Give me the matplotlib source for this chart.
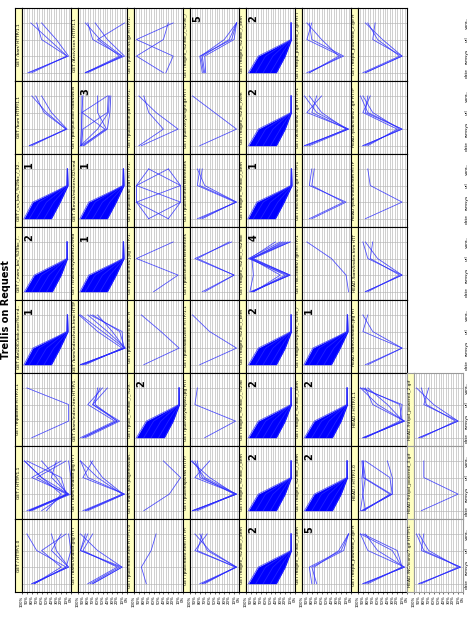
import matplotlib
matplotlib.use("Agg")
import matplotlib.pyplot as plt
import numpy as np

# variable order along each panel (bottom to top)
variables = ["date", "rsmsys", "url", "vora.."]
tick_labels = ["100%", "90%", "80%", "70%", "60%", "50%", "40%", "30%", "20%", "10%", "0%"]

band1 = [[96, 78, 7, 7], [40, 22, 7, 7], [70, 50, 8, 7], [55, 35, 6, 7], [85, 65, 9, 8]]
band2 = [[95, 75, 8, 8], [38, 20, 8, 8], [65, 45, 9, 8], [80, 60, 7, 8], [50, 30, 8, 8]]

# (col, row): (strip label, big number, lines as [date, rsmsys, url, vora], dense)
panels = {
    (0, 0): ("GET /barr/ HTTP/1.1", "", [[85, 8, 45, 82], [80, 8, 60, 70], [88, 5, 30, 60]], False),
    (0, 1): ("GET /bum HTTP/1.1", "", [[85, 10, 50, 80], [80, 10, 55, 72], [85, 8, 40, 60]], False),
    (0, 2): ("GET /_vs_bw/_%29bc_/_32..", "1", band1, True),
    (0, 3): ("GET /_nwm_bn/_%29bc_/..", "2", band2, True),
    (0, 4): ("GET /AnUDIC/bob.exe/%c+d..", "1", band1, True),
    (0, 5): ("GET /mpbored HTTP/1.1", "", [[80, 5, 5, 90]], False),
    (0, 6): ("GET / HTTP/1.1", "", [[85, 5, 60, 95], [80, 5, 40, 30], [85, 8, 30, 60], [60, 10, 20, 90],
                                   [85, 10, 70, 10], [90, 5, 80, 20], [85, 0, 0, 5], [50, 20, 60, 95]], False),
    (0, 7): ("GET / HTTP/1.0", "", [[75, 10, 70, 90], [80, 5, 40, 20], [75, 20, 60, 10], [75, 10, 0, 5],
                                   [80, 5, 30, 40]], False),
    (1, 0): ("GET /Arxiv/icon HTTP/1.1", "", [[85, 10, 55, 85], [85, 5, 40, 65], [80, 10, 70, 80], [85, 15, 60, 5]], False),
    (1, 1): ("GET /pdf/pub.bib/%BBNWEN", "3", [[95, 93, 92, 92], [88, 40, 35, 33], [93, 90, 40, 38], [90, 45, 92, 90],
                                             [95, 60, 38, 36], [92, 92, 92, 40], [94, 42, 60, 60]], False),
    (1, 2): ("GET /Bmest/minters/32/cmd", "1", band1, True),
    (1, 3): ("GET /c/winnt/system32/cmd", "1", band1, True),
    (1, 4): ("GET /bam/indexcheck.html HTTP", "", [[95, 5, 15, 70], [90, 8, 10, 75], [95, 5, 50, 95], [90, 5, 30, 60],
                                                  [85, 10, 60, 98], [95, 3, 40, 80]], False),
    (1, 5): ("GET /bam/index.htm HTTP/1.", "", [[90, 20, 65, 60], [85, 15, 70, 55], [95, 25, 80, 50], [90, 20, 70, 40]], False),
    (1, 6): ("GET /bam/Ulhabot.jpg HTT", "", [[85, 5, 80, 95], [80, 5, 90, 70], [85, 10, 60, 95], [90, 8, 50, 75]], False),
    (1, 7): ("GET /bam/Ulhabot.jpg HTT", "", [[70, 10, 95, 85], [75, 15, 95, 80], [70, 10, 60, 95], [80, 20, 90, 70]], False),
    (2, 0): ("GET /pub/ak-ss.gz HTTP/1.", "", [[40, 95, 40, 30], [35, 20, 95, 20]], False),
    (2, 1): ("GET /pub/db/ie.pdf HTTP/1.", "", [[90, 40, 70, 80], [85, 10, 55, 90]], False),
    (2, 2): ("GET /pub/db/ac.pdf HTTP/1.", "", [[70, 95, 95, 70], [30, 5, 5, 30], [70, 5, 95, 30], [30, 95, 5, 70]], False),
    (2, 3): ("GET /pub/dlinks/j.pg HTTP/1.", "", [[60, 10, 95, 20]], False),
    (2, 4): ("GET /pub/bibtex/bib/.. H", "", [[80, 8, 45, 85]], False),
    (2, 5): ("GET /pub/_%29bc_/_%29..", "2", band2, True),
    (2, 6): ("GET /man.ats?pagemission..", "", [[80, 28, 5, 40]], False),
    (2, 7): ("GET /pub/index.htm HTTP/1.0", "", [[75, 85, 65, 55]], False),
    (3, 0): ("GET /nogel/_%29bc_/_%29c_/", "5", [[70, 75, 20, 5], [75, 80, 15, 5], [68, 70, 10, 5], [72, 78, 30, 5]], False),
    (3, 1): ("GET /pub/ve/ysinghr.gz HTT", "", [[80, 5, 50, 95]], False),
    (3, 2): ("GET /pub/selinte/references", "", [[85, 5, 80, 75], [80, 5, 70, 85], [75, 8, 85, 80]], False),
    (3, 3): ("GET /pub/selinte/references", "", [[75, 10, 90, 15], [70, 10, 85, 20]], False),
    (3, 4): ("GET /pub/adbt2b/e HTTP/1.1", "", [[80, 5, 60, 95]], False),
    (3, 5): ("GET /pub/ve/ysmpsu.jpg HTT", "", [[70, 7, 90, 85]], False),
    (3, 6): ("GET /pub/maps/ras HTTP/", "", [[95, 5, 70, 95], [90, 10, 75, 90], [95, 5, 80, 85], [85, 8, 60, 98],
                                            [95, 5, 90, 60]], False),
    (3, 7): ("GET /pub/index.html HTTP/", "", [[75, 5, 90, 65], [80, 5, 60, 90], [70, 8, 85, 75], [75, 5, 65, 80]], False),
    (4, 0): ("GET /nogel/_%29bc_/_kern", "2", band2, True),
    (4, 1): ("GET /nogel/_%29c_/vcm", "2", band2, True),
    (4, 2): ("GET /nogel/_%29bc_/_kern", "1", band1, True),
    (4, 3): ("GET /nogel/_%29c_/_%29bc", "4", [[88, 10, 90, 20], [85, 15, 95, 30], [90, 10, 85, 10], [86, 20, 92, 40],
                                              [90, 12, 88, 25], [92, 85, 88, 15], [84, 30, 90, 10]], False),
    (4, 4): ("GET /nogel/_%29c_/_kern", "2", band2, True),
    (4, 5): ("GET /nogel/_%29bc_/_%29b", "2", band2, True),
    (4, 6): ("GET /nogel/_%29bc_/_kern", "2", band2, True),
    (4, 7): ("GET /nogel/_%29bc_/_kern", "2", band2, True),
    (5, 0): ("GET /httpd_powered_2.gif HTT", "", [[85, 20, 90, 80], [90, 15, 80, 85], [85, 25, 60, 90]], False),
    (5, 1): ("GET /w3c/icons/7.gif HTTP/1", "", [[95, 5, 70, 95], [90, 10, 60, 85], [95, 8, 80, 70], [85, 5, 90, 60]], False),
    (5, 2): ("GET /ntc/icons/7.gif HTTP/1", "", [[80, 10, 85, 80], [85, 15, 80, 75]], False),
    (5, 3): ("GET /NC/icons/7.gif HTTP/1", "", [[5, 10, 40, 90]], False),
    (5, 4): ("GET /nogel/rwyfwe/_%29c_/", "1", band1, True),
    (5, 5): ("GET /nogel/_%29bc_/_kern", "2", band2, True),
    (5, 6): ("GET /nogel/_%29bc_/_kern", "2", band2, True),
    (5, 7): ("GET /nogel/_%29bc_/_kern", "5", [[75, 75, 25, 5], [80, 85, 20, 5], [70, 80, 15, 5]], False),
    (6, 0): ("GET /httpd_powered_2.gif H", "", [[85, 10, 50, 85], [90, 15, 60, 80], [85, 10, 70, 65]], False),
    (6, 1): ("HEAD /pub/icons/7.gif HTTP", "", [[90, 10, 80, 95], [85, 15, 70, 90], [90, 10, 85, 80], [80, 20, 90, 75]], False),
    (6, 2): ("HEAD /pub/index.htm HTTP", "", [[85, 10, 75, 80]], False),
    (6, 3): ("HEAD /bam/index.htm HTT", "", [[85, 10, 80, 90], [80, 15, 75, 70], [85, 10, 60, 85]], False),
    (6, 4): ("HEAD /bam/Ulhabot.jpg HT", "", [[85, 10, 90, 80], [80, 10, 70, 90]], False),
    (6, 5): ("HEAD / HTTP/1.1", "", [[90, 5, 60, 95], [85, 10, 15, 90], [90, 8, 40, 80], [85, 15, 10, 95],
                                    [88, 5, 70, 85]], False),
    (6, 6): ("HEAD / HTTP/1.0", "", [[92, 30, 35, 85], [88, 35, 90, 92], [95, 90, 92, 88], [90, 30, 30, 40],
                                    [85, 90, 85, 90], [93, 32, 88, 90]], False),
    (6, 7): ("GET /httpd_powered_2.gif H", "", [[90, 5, 80, 95], [85, 10, 20, 90], [90, 5, 60, 85], [80, 10, 30, 95]], False),
    (7, 5): ("HEAD /httpd_powered_2.gif", "", [[90, 10, 60, 95], [85, 15, 75, 85], [90, 10, 80, 70]], False),
    (7, 6): ("HEAD /httpd_powered_3.gif", "", [[85, 10, 80, 80]], False),
    (7, 7): ("HEAD /NC/icons/7.gif HTTP/1.", "", [[90, 5, 80, 95], [85, 10, 70, 90], [90, 5, 85, 80]], False),
}

W, H = 474, 620
fig = plt.figure(figsize=(W / 100, H / 100), dpi=100)
fig.patch.set_facecolor("white")

x0, y0, cw, rh, sw = 15, 8, 56, 73, 7
ypos = np.arange(4)

def fr(x, y, w, h):
    return [x / W, 1 - (y + h) / H, w / W, h / H]

for (c, r), (label, num, lines, dense) in panels.items():
    px = x0 + c * cw
    py = y0 + r * rh
    edge = "#999999" if c == 7 else "black"
    st = fig.add_axes(fr(px, py, sw, rh))
    st.set_facecolor("#ffffc0")
    st.set_xticks([]); st.set_yticks([])
    for s in st.spines.values():
        s.set_color(edge); s.set_linewidth(0.8)
    st.text(0.5, 0.5, label, rotation=90, ha="center", va="center", fontsize=3.2, transform=st.transAxes)

    ax = fig.add_axes(fr(px + sw, py, cw - sw, rh))
    ax.set_xlim(100, 0)
    ax.set_ylim(-0.5, 3.9)
    for g in range(0, 101, 5):
        ax.axvline(g, color="#b4b4b4", lw=0.45, zorder=0)
    for yv in ypos:
        ax.axhline(yv, color="#b4b4b4", lw=0.45, zorder=0)
    arr = np.array(lines, dtype=float)
    if dense:
        ax.fill_betweenx(ypos, arr.min(axis=0), arr.max(axis=0), color="#0000ff", lw=0, zorder=2)
    for ln in arr:
        ax.plot(ln, ypos, color="#2a2aff", lw=0.6, alpha=0.8, zorder=3)
    if num:
        ax.text(0.15, 0.86, num, rotation=90, fontsize=7, fontweight="bold",
                ha="center", va="center", transform=ax.transAxes)
    ax.set_yticks([])
    ax.set_xticks([])
    for s in ax.spines.values():
        s.set_color(edge); s.set_linewidth(0.8)
    if r == 7:
        ax.set_xticks(np.linspace(100, 0, 11))
        ax.set_xticklabels(tick_labels, rotation=90, fontsize=2.8)
        ax.tick_params(axis="x", length=1.5, width=0.4, pad=1)

# variable labels on the right edge, one set per row
for r in range(8):
    for i, v in enumerate(variables):
        yy = y0 + r * rh + rh * (3.9 - i) / 4.4
        fig.text(467 / W, 1 - yy / H, v, rotation=90, fontsize=3.2, ha="center", va="center")

fig.text(6 / W, 1 - 310 / H, "Trellis on Request", rotation=90, fontsize=7,
         fontweight="bold", ha="center", va="center")

fig.savefig("out.png", dpi=100)
